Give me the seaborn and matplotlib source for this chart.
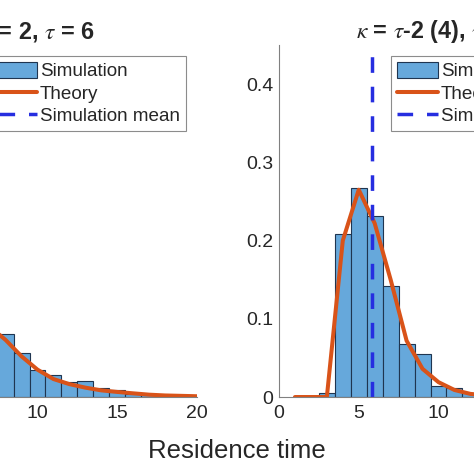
import numpy as np
import pandas as pd
import matplotlib
matplotlib.use('Agg')
import matplotlib.pyplot as plt
from matplotlib.patches import Patch
from matplotlib.lines import Line2D
import seaborn as sns

# Bin centres (width 1) and simulated probabilities
bins_left = [2, 3, 4, 5, 6, 7, 8, 9, 10, 11, 12, 13, 14, 15, 16, 17, 18, 19]
sim_left = [0.110, 0.165, 0.155, 0.125, 0.115, 0.085, 0.081, 0.056, 0.035, 0.028,
            0.019, 0.021, 0.012, 0.009, 0.0035, 0.002, 0.001, 0.0005]
bins_right = [3, 4, 5, 6, 7, 8, 9, 10, 11, 12, 13, 14]
sim_right = [0.005, 0.209, 0.267, 0.232, 0.142, 0.068, 0.055, 0.014, 0.012, 0.005,
             0.003, 0.001]

# Theory curves evaluated at integer times 1..20
t_grid = list(range(1, 21))
theory_left = [0, 0.12, 0.16, 0.15, 0.13, 0.11, 0.09, 0.073, 0.052, 0.035, 0.023,
               0.0165, 0.012, 0.0085, 0.0065, 0.0047, 0.003, 0.002, 0.0015, 0.001]
theory_right = [0, 0, 0, 0.20, 0.265, 0.222, 0.150, 0.072, 0.036, 0.019, 0.009,
                0.004, 0.002, 0.001, 0.0005, 0.0003, 0.0002, 0.0001, 0.0001, 0]

sim_mean_left = 5.9
sim_mean_right = 5.81

titles = [r'$\kappa$ = 2, $\tau$ = 6', r'$\kappa$ = $\tau$-2 (4), $\tau$ = 6']
legend_labels = ['Simulation', 'Theory', 'Simulation mean']
y_ticks = [0, 0.1, 0.2, 0.3, 0.4]
x_ticks = [0, 5, 10, 15, 20]

bar_color = (0.40, 0.66, 0.86)
edge_color = '#1f3550'
theory_color = '#D95319'
mean_color = (0.15, 0.18, 0.88)

sns.set_theme(style='white')
plt.rcParams['font.family'] = ['Liberation Sans', 'DejaVu Sans']
plt.rcParams['mathtext.fontset'] = 'stix'

fig = plt.figure(figsize=(4.74, 4.74), dpi=100)
ax_left = fig.add_axes([-0.2574, 0.1624, 0.673, 0.7426])
ax_right = fig.add_axes([0.5886, 0.1624, 0.673, 0.7426])

panels = [
    (ax_left, bins_left, sim_left, theory_left, sim_mean_left, titles[0]),
    (ax_right, bins_right, sim_right, theory_right, sim_mean_right, titles[1]),
]

for ax, centers, heights, theory, mean_val, title in panels:
    df = pd.DataFrame({'t': centers, 'p': heights})
    sns.histplot(data=df, x='t', weights='p', discrete=True, ax=ax,
                 color=bar_color, edgecolor=edge_color, linewidth=0.8, alpha=1)
    sns.lineplot(x=t_grid, y=theory, ax=ax, color=theory_color, linewidth=2.9)
    ax.axvline(mean_val, color=mean_color, linewidth=2.5,
               linestyle=(0, (4.5, 4.0)))

    ax.set_xlim(0, 20)
    ax.set_ylim(0, 0.45)
    ax.set_xticks(x_ticks)
    ax.set_yticks(y_ticks)
    ax.set_xlabel('')
    ax.set_ylabel('')
    ax.tick_params(direction='in', length=3, width=0.6, color='#808080',
                   labelsize=14, labelcolor='#262626')
    ax.tick_params(axis='x', pad=6)
    ax.tick_params(axis='y', pad=4)
    for side in ['top', 'right']:
        ax.spines[side].set_visible(False)
    for side in ['left', 'bottom']:
        ax.spines[side].set_color('#808080')
        ax.spines[side].set_linewidth(0.8)
    ax.set_title(title, fontsize=16.8, fontweight='bold', pad=5)

    handles = [
        Patch(facecolor=bar_color, edgecolor=edge_color, linewidth=0.8),
        Line2D([0], [0], color=theory_color, linewidth=2.9),
        Line2D([0], [0], color=mean_color, linewidth=2.5, linestyle=(0, (4.5, 4.0))),
    ]
    leg = ax.legend(handles, legend_labels, loc='upper right', fontsize=13.6,
                    labelspacing=0.22, handlelength=2.2, handleheight=0.9,
                    handletextpad=0.15, borderpad=0.3, borderaxespad=0.6,
                    fancybox=False, framealpha=1, edgecolor='#8c8c8c')
    leg.get_frame().set_linewidth(0.8)

# tick labels that fall outside the cropped canvas are left blank
ax_left.set_xticklabels(['', ''] + [str(v) for v in x_ticks[2:]])
ax_left.set_yticklabels([])
ax_right.set_xticklabels([str(v) for v in x_ticks[:3]] + ['', ''])
ax_right.set_yticklabels(['%g' % v for v in y_ticks])

fig.text(0.5, 0.0344, 'Residence time', ha='center', va='baseline',
         fontsize=18.5, color='#262626')

fig.savefig('out.png', dpi=100)
